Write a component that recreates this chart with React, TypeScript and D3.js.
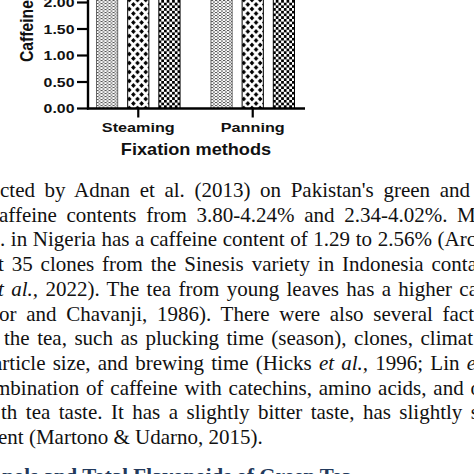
import React, { useEffect, useRef } from "react";
import * as d3 from "d3";

// ---- chart data ----
const fixationMethods = ["Steaming", "Panning"];
const treatments = ["T1", "T2", "T3"];
const steamingCaffeine = [2.62, 2.48, 2.35];
const panningCaffeine = [2.7, 2.56, 2.44];
const yTickValues = [0, 0.5, 1, 1.5, 2, 2.5, 3];
const yAxisTitle = "Caffeine content (%)";
const xAxisTitle = "Fixation methods";

// ---- surrounding page text (italic parts between *) ----
const bodyLines = [
  "cted by Adnan et al. (2013) on Pakistan's green and",
  "affeine contents from 3.80-4.24% and 2.34-4.02%. Me",
  ". in Nigeria has a caffeine content of 1.29 to 2.56% (Arc",
  "t 35 clones from the Sinesis variety in Indonesia conta",
  "*t al.,* 2022). The tea from young leaves has a higher ca",
  "or and Chavanji, 1986). There were also several fact",
  "the tea, such as plucking time (season), clones, climat",
  "article size, and brewing time (Hicks *et al.,* 1996; Lin *e*",
  "mbination of caffeine with catechins, amino acids, and o",
  "th tea taste. It has a slightly bitter taste, has slightly s",
  "ent (Martono & Udarno, 2015).",
];
const headingText = "nols and Total Flavonoids of Green Tea";

// layout of the text lines (start x, end x or null when not justified)
const lineStartX = [0, -1, 0, -2, -2, -1, 4, -7, -6, 1, -2];
const lineEndX = [470, 485, 476, 477, 478, 474, 473, 476, 481, 479, null];

const W = 474;
const H = 474;

const series = fixationMethods.map((m, i) => ({
  method: m,
  values: i === 0 ? steamingCaffeine : panningCaffeine,
}));

export default function App() {
  const textRef = useRef<SVGGElement>(null);

  useEffect(() => {
    document.body.style.margin = "0";
    const g = d3.select(textRef.current);
    g.selectAll<SVGTextElement, unknown>("text.body-line").each(function () {
      const el = this;
      const endAttr = el.getAttribute("data-end");
      if (!endAttr) return;
      const x0 = parseFloat(el.getAttribute("x") || "0");
      const target = parseFloat(endAttr) - x0;
      el.style.wordSpacing = "0px";
      const len = el.getComputedTextLength();
      const txt = el.textContent || "";
      const spaces = (txt.match(/ /g) || []).length;
      if (spaces > 0) {
        const ws = (target - len) / spaces;
        el.style.wordSpacing = `${ws}px`;
      }
    });
  }, []);

  const x0 = d3
    .scaleBand<string>()
    .domain(fixationMethods)
    .range([87, 304])
    .paddingInner(0.27)
    .paddingOuter(0.083);
  const x1 = d3
    .scaleBand<string>()
    .domain(treatments)
    .range([0, x0.bandwidth()])
    .paddingInner(0.32);
  const y = d3.scaleLinear().domain([0, 3]).range([108.5, 108.5 - 53 * 3]);

  const axisX = 88;
  const baseY = y(0);
  const patterns = ["pat-weave", "pat-diamond", "pat-check"];
  const borders = ["#666", "#000", "#000"];

  const chartFont = "'Liberation Sans', Arial, sans-serif";
  const serif = "'Liberation Serif', 'Times New Roman', serif";
  const lineY = (i: number) => 197 + i * 24.7;

  const renderLine = (s: string) => {
    const parts = s.split("*");
    return parts.map((p, i) => (
      <tspan key={i} fontStyle={i % 2 === 1 ? "italic" : "normal"}>
        {p}
      </tspan>
    ));
  };

  return (
    <svg
      width={W}
      height={H}
      viewBox={`0 0 ${W} ${H}`}
      style={{ position: "absolute", left: 0, top: 0, background: "#fff" }}
    >
      <defs>
        <pattern id="pat-weave" patternUnits="userSpaceOnUse" width={4} height={3}>
          <rect width={4} height={3} fill="#fff" />
          <rect x={0} y={0} width={2.2} height={1.1} fill="#555" />
          <rect x={2} y={1.5} width={2.2} height={1.1} fill="#555" />
        </pattern>
        <pattern id="pat-diamond" patternUnits="userSpaceOnUse" width={8.2} height={9}>
          <rect width={8.2} height={9} fill="#fff" />
          {[
            [0, 0],
            [8.2, 0],
            [0, 9],
            [8.2, 9],
            [4.1, 4.5],
          ].map(([cx, cy], i) => (
            <path
              key={i}
              d={`M${cx},${cy - 2.4} L${cx + 2.3},${cy} L${cx},${cy + 2.4} L${cx - 2.3},${cy} Z`}
              fill="#000"
            />
          ))}
        </pattern>
        <pattern id="pat-check" patternUnits="userSpaceOnUse" width={5.4} height={5.4}>
          <rect width={5.4} height={5.4} fill="#fff" />
          <rect x={0} y={0} width={2.7} height={2.7} fill="#000" />
          <rect x={2.7} y={2.7} width={2.7} height={2.7} fill="#000" />
        </pattern>
      </defs>

      <rect width={W} height={H} fill="#fff" />

      {/* bars */}
      <g>
        {series.map((s) => (
          <g key={s.method} transform={`translate(${x0(s.method)},0)`}>
            {s.values.map((v, i) => (
              <rect
                key={i}
                x={x1(treatments[i])}
                y={y(v)}
                width={x1.bandwidth()}
                height={baseY - y(v)}
                fill={`url(#${patterns[i]})`}
                stroke={borders[i]}
                strokeWidth={1}
              />
            ))}
          </g>
        ))}
      </g>

      {/* y axis */}
      <line x1={axisX} x2={axisX} y1={baseY + 1} y2={y(3)} stroke="#000" strokeWidth={2.4} />
      {yTickValues.map((t) => (
        <g key={t}>
          <line x1={axisX - 11} x2={axisX} y1={y(t)} y2={y(t)} stroke="#000" strokeWidth={2.2} />
          <text
            transform={`translate(74.5, ${y(t)}) scale(1.22,1)`}
            dy="0.36em"
            textAnchor="end"
            fontFamily={chartFont}
            fontWeight="bold"
            fontSize={13}
            fill="#111"
          >
            {d3.format(".2f")(t)}
          </text>
        </g>
      ))}

      {/* x axis */}
      <line x1={axisX - 1} x2={305} y1={baseY} y2={baseY} stroke="#000" strokeWidth={2.4} />
      {fixationMethods.map((m) => {
        const cx = (x0(m) || 0) + x0.bandwidth() / 2;
        return (
          <g key={m}>
            <line x1={cx} x2={cx} y1={baseY} y2={baseY + 9} stroke="#000" strokeWidth={2.2} />
            <text
              transform={`translate(${cx}, 131.5) scale(1.2,1)`}
              textAnchor="middle"
              fontFamily={chartFont}
              fontWeight="bold"
              fontSize={13.5}
              fill="#111"
            >
              {m}
            </text>
          </g>
        );
      })}
      <text
        transform={`translate(196, 155) scale(1.15,1)`}
        textAnchor="middle"
        fontFamily={chartFont}
        fontWeight="bold"
        fontSize={15.8}
        fill="#111"
      >
        {xAxisTitle}
      </text>
      <text
        transform={`translate(33, 62) scale(1.18,1) rotate(-90)`}
        textAnchor="start"
        fontFamily={chartFont}
        fontWeight="bold"
        fontSize={15.7}
        fill="#111"
      >
        {yAxisTitle}
      </text>

      {/* page text */}
      <g ref={textRef}>
        {bodyLines.map((s, i) => (
          <text
            key={i}
            className="body-line"
            x={lineStartX[i]}
            y={lineY(i)}
            data-end={lineEndX[i] === null ? undefined : lineEndX[i]}
            fontFamily={serif}
            fontSize={21}
            fill="#111"
            style={{ whiteSpace: "pre" }}
          >
            {renderLine(s)}
          </text>
        ))}
        <text
          x={2}
          y={483}
          fontFamily={serif}
          fontWeight="bold"
          fontSize={21}
          fill="#22395c"
        >
          {headingText}
        </text>
      </g>
    </svg>
  );
}
